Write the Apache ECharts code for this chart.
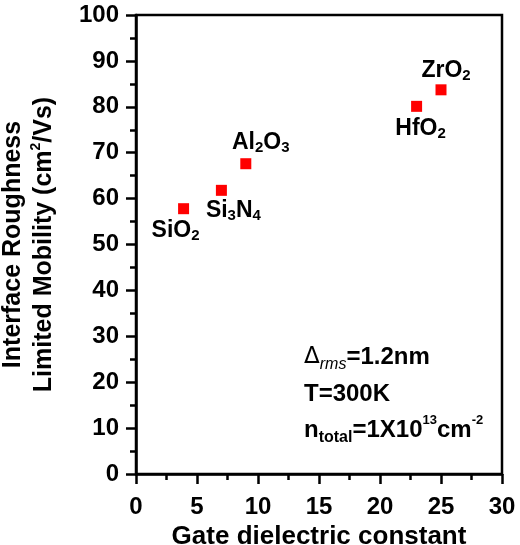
<!DOCTYPE html>
<html>
<head>
<meta charset="utf-8">
<script src="https://cdn.jsdelivr.net/npm/echarts@6/dist/echarts.min.js"></script>
<style>html,body{margin:0;padding:0;background:#fff}#c{width:520px;height:545px}</style>
</head>
<body>
<div id="c"></div>
<script>
const materials = ['SiO2', 'Si3N4', 'Al2O3', 'HfO2', 'ZrO2'];
const dielectricConstant = [3.9, 7, 9, 23, 25];
const mobility = [57.8, 61.8, 67.6, 80.1, 83.7];
const xTitle = 'Gate dielectric constant';
const yTitle = 'Interface Roughness\nLimited Mobility (cm{sup|2}/Vs)';

// label placement (layout, not data)
const labelOffsets = [[-8, 22], [12, 20], [15, -21], [4, 22], [5, -19]];

const FONT = 'Liberation Sans, Arial, sans-serif';
function chem(name) {
  return name.replace(/([A-Za-z]+)|(\d+)/g, (m, a, d) => a ? '{m|' + a + '}' : '{s|' + d + '}');
}
const labelRich = {
  m: { fontSize: 23, fontWeight: 'bold', fontFamily: FONT, color: '#000', lineHeight: 26, textBorderWidth: 0 },
  s: { fontSize: 15, fontWeight: 'bold', fontFamily: FONT, color: '#000', lineHeight: 15, verticalAlign: 'bottom', textBorderWidth: 0 }
};

const chart = echarts.init(document.getElementById('c'));
chart.setOption({
  animation: false,
  backgroundColor: '#fff',
  grid: { left: 136, right: 18, top: 15, bottom: 71, outerBoundsMode: 'none', containLabel: false,
    show: true, borderColor: '#000', borderWidth: 2.5, backgroundColor: 'transparent' },
  xAxis: {
    type: 'value', min: 0, max: 30, interval: 5,
    name: xTitle, nameLocation: 'middle', nameGap: 49,
    nameTextStyle: { fontSize: 26, fontWeight: 'bold', fontFamily: FONT, color: '#000' },
    axisLine: { show: true, onZero: false, lineStyle: { color: '#000', width: 2.5 } },
    axisTick: { show: true, inside: false, length: 10, lineStyle: { color: '#000', width: 2.5 } },
    minorTick: { show: true, splitNumber: 2, length: 6, lineStyle: { color: '#000', width: 2.5 } },
    splitLine: { show: false },
    axisLabel: { fontSize: 24, fontWeight: 'bold', fontFamily: FONT, color: '#000', margin: 21 }
  },
  yAxis: {
    type: 'value', min: 0, max: 100, interval: 10,
    name: yTitle, nameLocation: 'middle', nameGap: 76, nameRotate: 90,
    nameTextStyle: { fontSize: 25, fontWeight: 'bold', fontFamily: FONT, color: '#000', lineHeight: 31,
      rich: { sup: { fontSize: 14, fontWeight: 'bold', fontFamily: FONT, color: '#000', verticalAlign: 'top', lineHeight: 31 } } },
    axisLine: { show: true, onZero: false, lineStyle: { color: '#000', width: 2.5 } },
    axisTick: { show: true, inside: false, length: 10, lineStyle: { color: '#000', width: 2.5 } },
    minorTick: { show: true, splitNumber: 2, length: 6, lineStyle: { color: '#000', width: 2.5 } },
    splitLine: { show: false },
    axisLabel: { fontSize: 24, fontWeight: 'bold', fontFamily: FONT, color: '#000', margin: 17 }
  },
  series: [{
    type: 'scatter',
    symbol: 'rect', symbolSize: 11,
    itemStyle: { color: '#ff0000', opacity: 1 },
    data: materials.map((n, i) => ({
      name: n, value: [dielectricConstant[i], mobility[i]],
      label: { show: true, position: 'inside', offset: labelOffsets[i],
        color: '#000', fontWeight: 'bold', textBorderWidth: 0,
        formatter: chem(n), rich: labelRich }
    }))
  }],
  graphic: [
    { type: 'text', left: 304, top: 345, style: {
      text: '{d|Δ}{r|rms}{m|=1.2nm}', rich: {
        d: { fontSize: 23, fontFamily: 'DejaVu Sans, sans-serif', fill: '#000', lineHeight: 32 },
        r: { fontSize: 16, fontStyle: 'italic', fontFamily: FONT, fill: '#000', verticalAlign: 'bottom', lineHeight: 16 },
        m: { fontSize: 24, fontWeight: 'bold', fontFamily: FONT, fill: '#000', lineHeight: 32 } } } },
    { type: 'text', left: 304, top: 382, style: {
      text: '{m|T=300K}', rich: {
        m: { fontSize: 24, fontWeight: 'bold', fontFamily: FONT, fill: '#000', lineHeight: 32 } } } },
    { type: 'text', left: 304, top: 414, style: {
      text: '{m|n}{s|total}{m|=1X10}{p|13}{m|cm}{p|-2}', rich: {
        m: { fontSize: 24, fontWeight: 'bold', fontFamily: FONT, fill: '#000', lineHeight: 32 },
        s: { fontSize: 16, fontWeight: 'bold', fontFamily: FONT, fill: '#000', verticalAlign: 'bottom', lineHeight: 16 },
        p: { fontSize: 13, fontWeight: 'bold', fontFamily: FONT, fill: '#000', verticalAlign: 'top', lineHeight: 13 } } } }
  ]
});
</script>
</body>
</html>
